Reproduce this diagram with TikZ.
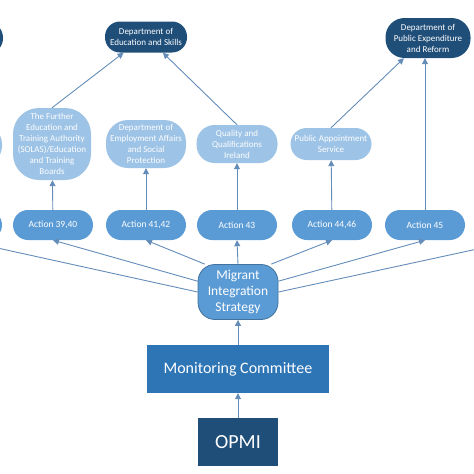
\documentclass[tikz,border=0pt]{standalone}
\usepackage{fontspec}
\setmainfont{Carlito}
\usetikzlibrary{arrows.meta}
\definecolor{navy}{RGB}{31,78,121}
\definecolor{midblue}{RGB}{91,155,213}
\definecolor{paleblue}{RGB}{157,195,230}
\definecolor{mcblue}{RGB}{46,117,182}
\definecolor{misedge}{RGB}{65,113,156}
\definecolor{linkblue}{RGB}{100,140,185}
\begin{document}
\begin{tikzpicture}[x=1pt,y=-1pt,
  box/.style={rounded corners=15pt,text=white,align=center,inner sep=0pt,font=\fontsize{9}{11}\selectfont},
  deptbox/.style={box,fill=navy,minimum width=82pt,minimum height=31pt},
  agencybox/.style={box,fill=paleblue,minimum width=80pt},
  actionbox/.style={box,fill=midblue,minimum width=80pt,minimum height=30pt,font=\fontsize{9.5}{11}\selectfont},
  link/.style={draw=linkblue,line width=0.9pt,-{Triangle[length=6pt,width=6pt]}}]
\clip (0,0) rectangle (474,474);
% departments
\node[deptbox] (des) at (146,37) {Department of\\Education and Skills};
\node[deptbox,rounded corners=19pt,minimum width=85pt,minimum height=40pt] (per) at (428,38) {Department of\\Public Expenditure\\and Reform};
\node[deptbox] (deptleft) at (-38,38) {};
% agencies
\node[agencybox,rounded corners=26pt,minimum width=78pt,minimum height=72pt] (solas) at (52,144) {The Further\\Education and\\Training Authority\\(SOLAS)/Education\\and Training\\Boards};
\node[agencybox,rounded corners=22pt,minimum height=48pt] (deasp) at (146,144) {Department of\\Employment Affairs\\and Social\\Protection};
\node[agencybox,rounded corners=18pt,minimum width=81pt,minimum height=38pt] (qqi) at (237,144) {Quality and\\Qualifications\\Ireland};
\node[agencybox,rounded corners=16pt,minimum width=81pt,minimum height=32pt] (pas) at (331,144) {Public Appointment\\Service};
\node[agencybox,rounded corners=19pt,minimum height=40pt] (agencyleft) at (-38,145) {};
% actions
\node[actionbox] (act39) at (53,225) {Action 39,40};
\node[actionbox] (act41) at (146,225) {Action 41,42};
\node[actionbox] (act43) at (237,225) {Action 43};
\node[actionbox] (act44) at (332,225) {Action 44,46};
\node[actionbox] (act45) at (425,225) {Action 45};
\node[actionbox] (actleft) at (-38,225) {};
\node[actionbox] (actright) at (518,225) {};
% strategy, committee, office
\node[box,rounded corners=17pt,fill=midblue,draw=misedge,line width=0.8pt,minimum width=80pt,minimum height=55pt,font=\fontsize{13.5}{16}\selectfont] (mis) at (238,292) {Migrant\\Integration\\Strategy};
\node[box,rounded corners=0pt,fill=mcblue,minimum width=182pt,minimum height=48pt,font=\fontsize{16}{18}\selectfont] (mc) at (238,369) {Monitoring Committee};
\node[box,rounded corners=0pt,fill=navy,minimum width=80pt,minimum height=48pt,font=\fontsize{20}{22}\selectfont] (opmi) at (238,442) {OPMI};
% links
\draw[link] (opmi) -- (mc);
\draw[link] (mc) -- (mis);
\draw[link] (mis.west) -- (actleft.south);
\draw[link] (mis.165) -- (act39.south);
\draw[link] (mis.140) -- (act41.south);
\draw[link] (mis.north) -- (act43.south);
\draw[link] (mis.40) -- (act44.south);
\draw[link] (mis.15) -- (act45.south);
\draw[link] (mis.east) -- (actright.south);
\draw[link] (act39) -- (solas);
\draw[link] (act41) -- (deasp);
\draw[link] (act43) -- (qqi);
\draw[link] (act44) -- (pas);
\draw[link] (act45.north) -- (act45.north |- per.south);
\draw[link] (solas.north) -- (des.215);
\draw[link] (qqi.north) -- (des.317);
\draw[link] (pas.north) -- (per.220);
\end{tikzpicture}
\end{document}
